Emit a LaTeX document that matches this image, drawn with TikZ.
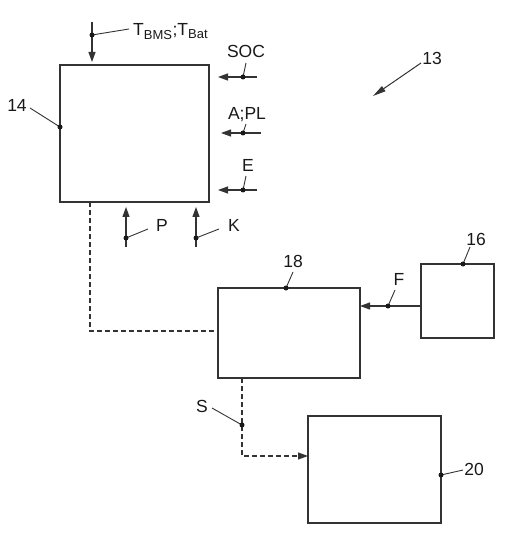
\documentclass[tikz,border=0pt]{standalone}
\usepackage{fontspec}
\setmainfont{Liberation Sans}
\usetikzlibrary{arrows.meta}
\begin{document}
\begin{tikzpicture}[x=1pt,y=-1pt,
  box/.style={draw=black!80, line width=1.1pt, rectangle, inner sep=0pt, outer sep=0pt},
  lab/.style={font=\fontsize{17.5}{17.5}\selectfont, inner sep=0pt, text=black!90},
  sig/.style={draw=black!80, line width=1.1pt, -{Triangle[length=10pt,width=7pt]}},
  lead/.style={draw=black!80, line width=0.9pt},
  dsh/.style={draw=black!80, line width=1.1pt, dash pattern=on 5pt off 3pt},
  dotc/.style={fill=black!90, circle, inner sep=0pt, minimum size=5pt}
]
\useasboundingbox (0,0) rectangle (508,534);
\fill[white] (0,0) rectangle (508,534);

% boxes
\node[box, minimum width=149pt, minimum height=137pt] (b14) at (134.5,133.5) {};
\node[box, minimum width=142pt, minimum height=90pt] (b18) at (289,333) {};
\node[box, minimum width=73pt, minimum height=74pt] (b16) at (457.5,301) {};
\node[box, minimum width=133pt, minimum height=107pt] (b20) at (374.5,469.5) {};

% labels
\node[lab, anchor=base west] (lT) at (133,36) {T\textsubscript{\fontsize{13}{13}\selectfont BMS};T\textsubscript{\fontsize{13}{13}\selectfont Bat}};
\node[lab, anchor=base] (lSOC) at (246,58) {SOC};
\node[lab, anchor=base] (lA) at (247,120) {A;PL};
\node[lab, anchor=base] (lE) at (248,172) {E};
\node[lab, anchor=base] (lP) at (162,232) {P};
\node[lab, anchor=base] (lK) at (234,232) {K};
\node[lab, anchor=base] (l14) at (17,112) {14};
\node[lab, anchor=base] (l18) at (293,267) {18};
\node[lab, anchor=base] (l16) at (476,245) {16};
\node[lab, anchor=base] (lF) at (399,285) {F};
\node[lab, anchor=base] (lS) at (202,412) {S};
\node[lab, anchor=base] (l20) at (474,475) {20};
\node[lab, anchor=base] (l13) at (432,65) {13};

% input arrows to box 14
\coordinate (tT) at (92,22);
\coordinate (dT) at (92,35);
\draw[sig, shorten >=3pt] (tT) -- (tT |- b14.north);
\coordinate (sSOC) at (257,77);
\coordinate (dSOC) at (243,77);
\draw[sig, shorten >=9pt] (sSOC) -- (sSOC -| b14.east);
\coordinate (sA) at (261,133);
\coordinate (dA) at (243,133);
\draw[sig, shorten >=12pt] (sA) -- (sA -| b14.east);
\coordinate (sE) at (257,190);
\coordinate (dE) at (243,190);
\draw[sig, shorten >=9pt] (sE) -- (sE -| b14.east);
\coordinate (sP) at (126,247);
\coordinate (dP) at (126,238);
\draw[sig, shorten >=5pt] (sP) -- (sP |- b14.south);
\coordinate (sK) at (196,247);
\coordinate (dK) at (196,238);
\draw[sig, shorten >=5pt] (sK) -- (sK |- b14.south);

% F arrow
\coordinate (dF) at (388,306);
\draw[sig] (b16.west |- dF) -- (b18.east |- dF);

% dashed lines
\coordinate (c1) at (90,331);
\draw[dsh] (b14.south -| c1) -- (c1) -- (b18.west |- c1);
\coordinate (c2) at (242,456);
\coordinate (dS) at (242,425);
\draw[dsh, -{Triangle[length=10pt,width=7pt]}] (b18.south -| c2) -- (c2) -- (b20.west |- c2);

% reference dots on boxes
\coordinate (d14) at (b14.west |- 0,127);
\coordinate (d18) at (b18.north -| 286,0);
\coordinate (d16) at (b16.north -| 463,0);
\coordinate (d20) at (b20.east |- 0,475);

% leader lines
\coordinate (eT) at (129,29);
\coordinate (eSOC) at (246,63);
\coordinate (eA) at (246,124);
\coordinate (eE) at (246,176);
\coordinate (eP) at (148,229);
\coordinate (eK) at (219,229);
\coordinate (e14) at (30,108);
\coordinate (e18) at (293,272);
\coordinate (e16) at (470,247);
\coordinate (eF) at (395,290);
\coordinate (eS) at (212,408);
\coordinate (e20) at (463,470);
\draw[lead] (dT) -- (eT);
\draw[lead] (dSOC) -- (eSOC);
\draw[lead] (dA) -- (eA);
\draw[lead] (dE) -- (eE);
\draw[lead] (dP) -- (eP);
\draw[lead] (dK) -- (eK);
\draw[lead] (d14) -- (e14);
\draw[lead] (d18) -- (e18);
\draw[lead] (d16) -- (e16);
\draw[lead] (dF) -- (eF);
\draw[lead] (dS) -- (eS);
\draw[lead] (d20) -- (e20);

% dots
\foreach \d in {dT,dSOC,dA,dE,dP,dK,d14,d18,d16,d20,dF,dS}
  \node[dotc] at (\d) {};

% arrow 13
\coordinate (s13) at (421,63);
\coordinate (t13) at (373,96);
\draw[draw=black!80, line width=1pt, -{Triangle[length=13pt,width=6pt]}] (s13) -- (t13);
\end{tikzpicture}
\end{document}
